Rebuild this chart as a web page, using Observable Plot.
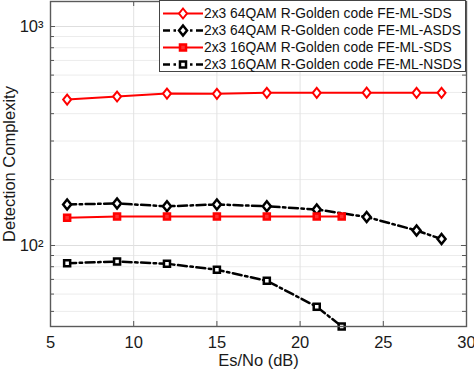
<!DOCTYPE html>
<html>
<head>
<meta charset="utf-8">
<script src="https://cdn.jsdelivr.net/npm/d3@7"></script>
<script src="https://cdn.jsdelivr.net/npm/@observablehq/plot@0.6"></script>
<style>
  body { margin: 0; background: white; }
  #wrap { position: relative; width: 474px; height: 372px; font-family: "Liberation Sans", Arial, Helvetica, sans-serif; }
  #wrap svg.plot { position: absolute; left: 0; top: 0; }
  #legend { position: absolute; left: 159px; top: 0px; width: 307px; height: 72px; border: 1.3px solid #444; background: white; box-sizing: border-box; }
  .row { position: absolute; left: 0; height: 17px; width: 100%; }
  .row svg { position: absolute; left: 3px; top: 0; }
  .row span { position: absolute; left: 44px; top: 0; line-height: 17px; font-size: 13.8px; color: #111; white-space: nowrap; }
</style>
</head>
<body>
<div id="wrap"></div>
<script>
// ---- data ----
const xA = [6, 9, 12, 15, 18, 21, 24, 27, 28.5];
const xB = [6, 9, 12, 15, 18, 21, 22.5];
const sds64  = [464, 479, 494, 493, 498, 498, 499, 498, 498];
const asds64 = [154, 155.5, 151, 154, 151, 146, 135, 117, 107];
const sds16  = [134, 135.5, 135.5, 135.5, 135.5, 135.5, 135.5];
const nsds16 = [83, 84.5, 82.5, 77.5, 69, 52.5, 42.7];
const seriesNames = [
  "2x3 64QAM R-Golden code FE-ML-SDS",
  "2x3 64QAM R-Golden code FE-ML-ASDS",
  "2x3 16QAM R-Golden code FE-ML-SDS",
  "2x3 16QAM R-Golden code FE-ML-NSDS"
];
const xTicks = [5, 10, 15, 20, 25, 30];
const yMajor = [100, 1000];
const yMinor = [50, 60, 70, 80, 90, 200, 300, 400, 500, 600, 700, 800, 900];
const yTickLabels = {100: "10²", 1000: "10³"};
const xLabel = "Es/No (dB)";
const yLabel = "Detection Complexity";

// ---- styles ----
const W = 474, H = 372, mL = 50, mR = 8, mT = 1, mB = 46;
const innerW = W - mL - mR, innerH = H - mT - mB;
const dashDot = "9,3.5,2.5,3.5";
const diamond = {
  draw(ctx, size) {
    const r = Math.sqrt(size / Math.PI);
    ctx.moveTo(0, -r * 1.25); ctx.lineTo(r, 0); ctx.lineTo(0, r * 1.25); ctx.lineTo(-r, 0); ctx.closePath();
  }
};
const styles = [
  {stroke: "#ff0000", width: 2, dash: null, symbol: diamond, r: 4, fill: "white", sw: 2},
  {stroke: "#000000", width: 2.5, dash: dashDot, symbol: diamond, r: 4, fill: "white", sw: 2.5},
  {stroke: "#ff0000", width: 2, dash: null, symbol: "square", r: 3.4, fill: "#ff3030", sw: 2.5},
  {stroke: "#000000", width: 2.5, dash: dashDot, symbol: "square", r: 3.4, fill: "white", sw: 2.5}
];
const seriesX = [xA, xA, xB, xB];
const seriesY = [sds64, asds64, sds16, nsds16];

const marks = [
  Plot.ruleY(yMinor, {stroke: "#ececec", strokeWidth: 1}),
  Plot.ruleY(yMajor, {stroke: "#dedede", strokeWidth: 1}),
  Plot.ruleX(xTicks.slice(1, -1), {stroke: "#e2e2e2", strokeWidth: 1})
];
seriesY.forEach((ys, i) => {
  const s = styles[i];
  const data = ys.map((v, j) => ({x: seriesX[i][j], y: v}));
  marks.push(Plot.line(data, {x: "x", y: "y", stroke: s.stroke, strokeWidth: s.width, strokeDasharray: s.dash, strokeLinejoin: "round"}));
});
seriesY.forEach((ys, i) => {
  const s = styles[i];
  const data = ys.map((v, j) => ({x: seriesX[i][j], y: v}));
  marks.push(Plot.dot(data, {x: "x", y: "y", symbol: s.symbol, r: s.r, stroke: s.stroke, strokeWidth: s.sw, fill: s.fill}));
});
const tc = "#555";
marks.push(
  Plot.ruleX(xTicks, {insetTop: innerH - 5, stroke: tc}),
  Plot.ruleX(xTicks, {insetBottom: innerH - 5, stroke: tc}),
  Plot.ruleY(yMajor, {insetRight: innerW - 5, stroke: tc}),
  Plot.ruleY(yMajor, {insetLeft: innerW - 5, stroke: tc}),
  Plot.ruleY(yMinor, {insetRight: innerW - 4, stroke: tc}),
  Plot.ruleY(yMinor, {insetLeft: innerW - 4, stroke: tc}),
  Plot.frame({stroke: "#5a5a5a", strokeWidth: 1.4}),
  Plot.axisX(xTicks, {tickSize: 0, tickPadding: 10, fontSize: 16.5, fill: "#1a1a1a", label: null}),
  Plot.axisY(yMajor, {tickSize: 0, tickPadding: 7, fontSize: 16.5, fill: "#1a1a1a", label: null, tickFormat: d => yTickLabels[d]}),
  Plot.text([xLabel], {frameAnchor: "bottom", dy: 39, fontSize: 16.5, fill: "#1a1a1a"}),
  Plot.text([yLabel], {frameAnchor: "left", textAnchor: "middle", dx: -41, rotate: -90, fontSize: 16.5, fill: "#1a1a1a"})
);

const chart = Plot.plot({
  width: W, height: H,
  marginLeft: mL, marginRight: mR, marginTop: mT, marginBottom: mB,
  style: {fontFamily: "Liberation Sans, Arial, Helvetica, sans-serif", background: "white", overflow: "visible"},
  x: {domain: [5, 30], label: null},
  y: {type: "log", domain: [42.66, 1301], label: null},
  marks
});
chart.classList.add("plot");
const wrap = document.getElementById("wrap");
wrap.appendChild(chart);

// ---- legend ----
const legend = document.createElement("div");
legend.id = "legend";
const ns = "http://www.w3.org/2000/svg";
seriesNames.forEach((name, i) => {
  const s = styles[i];
  const row = document.createElement("div");
  row.className = "row";
  row.style.top = (4 + i * 17) + "px";
  const sv = document.createElementNS(ns, "svg");
  sv.setAttribute("width", 40); sv.setAttribute("height", 17);
  const ln = document.createElementNS(ns, "line");
  ln.setAttribute("x1", 0); ln.setAttribute("x2", 40); ln.setAttribute("y1", 8.5); ln.setAttribute("y2", 8.5);
  ln.setAttribute("stroke", s.stroke); ln.setAttribute("stroke-width", s.width);
  if (s.dash) ln.setAttribute("stroke-dasharray", "7,3.5,2.5,3.5");
  sv.appendChild(ln);
  const p = document.createElementNS(ns, "path");
  const sym = s.symbol === "square" ? d3.symbolSquare : s.symbol;
  p.setAttribute("d", d3.symbol(sym, s.r * s.r * Math.PI)());
  p.setAttribute("transform", "translate(20,8.5)");
  p.setAttribute("stroke", s.stroke); p.setAttribute("stroke-width", s.sw); p.setAttribute("fill", s.fill);
  sv.appendChild(p);
  row.appendChild(sv);
  const t = document.createElement("span");
  t.textContent = name;
  row.appendChild(t);
  legend.appendChild(row);
});
wrap.appendChild(legend);
</script>
</body>
</html>
